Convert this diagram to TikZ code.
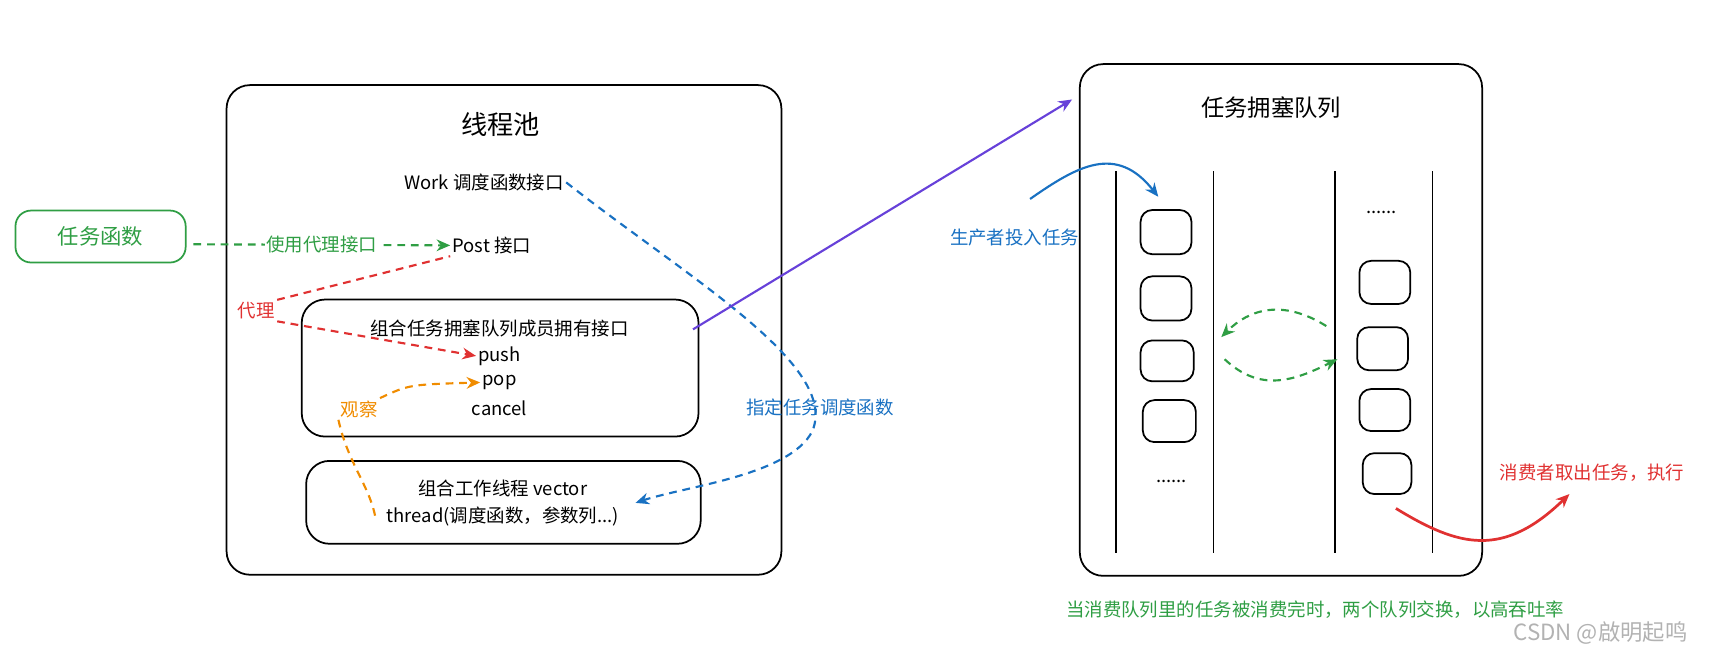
\documentclass[tikz,border=0pt]{standalone}
\usepackage{fontspec}
\setmainfont{Noto Sans CJK SC}
\usetikzlibrary{arrows.meta}
\definecolor{gr}{HTML}{2F9E44}
\definecolor{rd}{HTML}{E03131}
\definecolor{bl}{HTML}{1971C2}
\definecolor{og}{HTML}{F08C00}
\definecolor{pp}{HTML}{6741D9}
\begin{document}
\begin{tikzpicture}[x=0.02cm,y=-0.02cm,
  box/.style={draw=black,line width=0.9pt,rounded corners=12},
  sbox/.style={draw=black,line width=0.9pt,rounded corners=6},
  t/.style={font=\fontsize{9.5}{11}\selectfont,inner sep=1pt},
  ar/.style={-{Stealth[length=7pt,width=6pt]},line width=1.1pt},
  dsh/.style={dash pattern=on 4pt off 3pt,line width=1.1pt}]
\useasboundingbox (0,0) rectangle (1568,600);
% thread pool
\draw[box] (205,77) rectangle (707,520);
\node[font=\fontsize{13.5}{15}\selectfont] (tp) at (453,113) {线程池};
\node[t] (work) at (438,165) {Work 调度函数接口};
\node[draw=gr,line width=0.9pt,rounded corners=8,minimum width=3.08cm,minimum height=0.94cm,text=gr,font=\fontsize{11}{13}\selectfont] (fn) at (91,214) {任务函数};
\node[t] (post) at (445,222) {Post 接口};
\coordinate (g1) at (175,221);
\draw[ar,dsh,gr] (g1) -- (post.west) node[midway,fill=white,t,text=gr] {使用代理接口};
\node[t,text=rd] (dl) at (232,281) {代理};
\draw[box] (273,271) rectangle (632,395);
\node[t] (zh) at (452,297) {组合任务拥塞队列成员拥有接口};
\node[t] (push) at (452,322) {push};
\node[t] (pop) at (452,346) {pop};
\node[t] (cancel) at (452,369) {cancel};
\draw[dsh,rd] (dl.north east) -- (post.south west);
\draw[ar,dsh,rd] (dl.south east) -- (push.west);
\node[t,text=og] (gc) at (325,370) {观察};
\draw[ar,dsh,og] (gc.north east) .. controls (370,348) .. (pop.west);
\draw[box] (277,417) rectangle (634,492);
\node[t] (v1) at (455,442) {组合工作线程 vector};
\node[t] (v2) at (455,467) {thread(调度函数，参数列...)};
\coordinate (oe) at (340,470);
\draw[dsh,og] (gc.south west) .. controls (315,420) and (335,440) .. (oe);
\node[t,text=bl] (zd) at (742,369) {指定任务调度函数};
\coordinate (be) at (575,455);
\draw[ar,dsh,bl] (work.east) .. controls (620,250) and (760,330) .. (735,390) .. controls (715,430) and (620,440) .. (be);
% queue
\draw[box] (977,58) rectangle (1341,521);
\coordinate (pe) at (970,90);
\coordinate (ps) at (627,298);
\draw[ar,pp] (ps) -- (pe);
\node[font=\fontsize{12}{14}\selectfont] (qt) at (1150,97) {任务拥塞队列};
\node[t,text=bl] (sc) at (918,215) {生产者投入任务};
\coordinate (b1) at (932,180); \coordinate (b2) at (1048,178);
\draw[ar,bl] (b1) .. controls (975,150) and (1010,130) .. (b2);
\foreach \x/\n in {1010/a,1098/b,1208/c,1296/d}
  \draw[line width=0.9pt] (\x,155) coordinate (\n1) -- (\x,500) coordinate (\n2);
\foreach \a/\b/\c/\d/\n in {1032/190/1078/230/l1,1032/250/1078/290/l2,1032/308/1080/345/l3,1034/362/1082/400/l4,1230/236/1276/275/r1,1228/296/1274/335/r2,1230/352/1276/390/r3,1233/410/1277/447/r4}
  \node[sbox,minimum width={(\c-\a)*0.02cm},minimum height={(\d-\b)*0.02cm}] (\n) at ({(\a+\c)/2},{(\b+\d)/2}) {};
\node[t] (dl1) at (1060,436) {......};
\node[t] (dl2) at (1250,192) {......};
\coordinate (q1) at (1200,295); \coordinate (q2) at (1105,305);
\coordinate (q3) at (1108,325); \coordinate (q4) at (1210,325);
\draw[ar,dsh,gr] (q1) .. controls (1160,270) and (1130,280) .. (q2);
\draw[ar,dsh,gr] (q3) .. controls (1140,355) and (1170,345) .. (q4);
\coordinate (c1) at (1263,460); \coordinate (c2) at (1420,447);
\draw[ar,rd,line width=1.4pt] (c1) .. controls (1320,495) and (1360,505) .. (c2);
\node[t,text=rd,anchor=west] (xf) at (1355,428) {消费者取出任务，执行};
\node[t,text=gr] (bt) at (1190,552) {当消费队列里的任务被消费完时，两个队列交换，以高吞吐率};
\node[font=\fontsize{11.5}{13}\selectfont,text=black!30] (wm) at (1448,573) {CSDN @啟明起鸣};
\end{tikzpicture}
\end{document}
